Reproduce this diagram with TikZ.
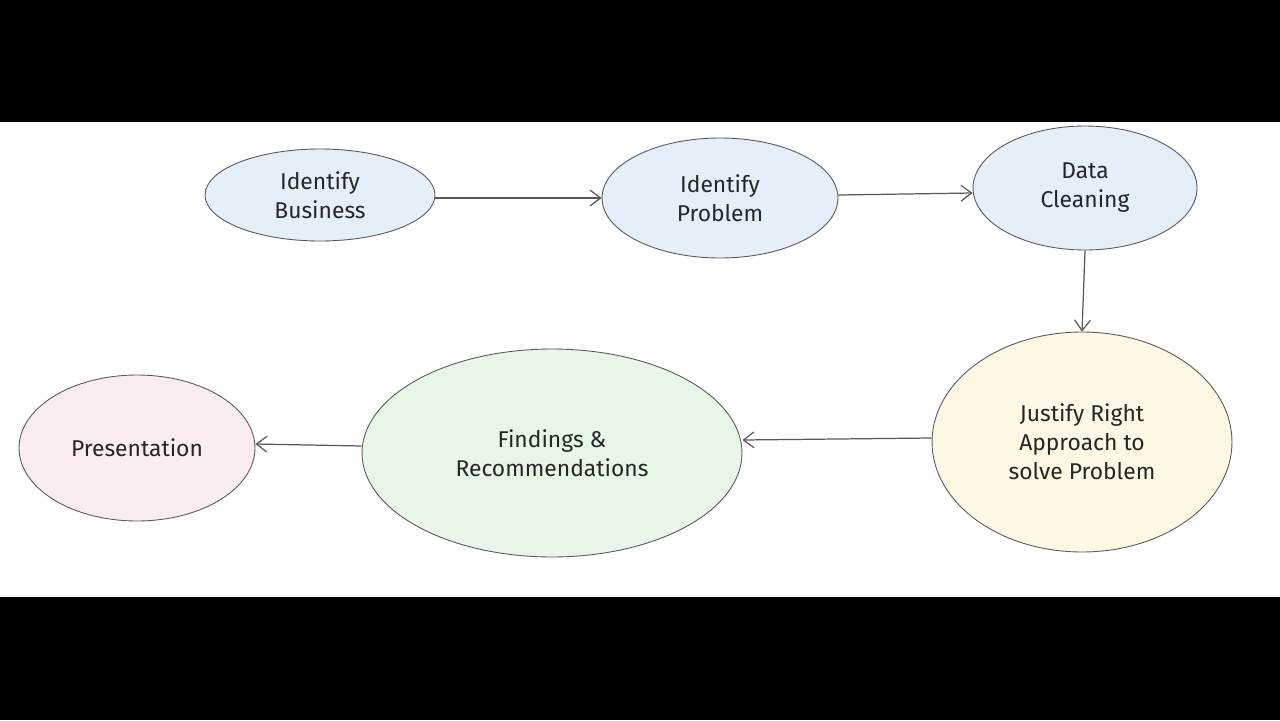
\documentclass[tikz,border=0pt]{standalone}
\usepackage{fontspec}
\setmainfont{Fira Sans}
\usetikzlibrary{shapes.geometric,arrows.meta}
\definecolor{cblue}{HTML}{E4EFFA}
\definecolor{cyel}{HTML}{FCF8E3}
\definecolor{cgreen}{HTML}{E7F6E7}
\definecolor{cpink}{HTML}{FBEDEF}
\begin{document}
\begin{tikzpicture}[x=0.02cm,y=-0.02cm,
  el/.style={ellipse,draw=gray!70!black,line width=0.5pt,align=center,inner sep=0pt,
    font=\fontsize{13}{16.5}\selectfont,text=black!85},
  arr/.style={draw=black!65,line width=0.7pt,-{Straight Barb[length=6pt,width=9pt]}}]
\useasboundingbox (0,0) rectangle (1280,720);
\fill[black] (0,0) rectangle (1280,122);
\fill[white] (0,122) rectangle (1280,597);
\fill[black] (0,597) rectangle (1280,720);
\node[el,fill=cblue,minimum width=4.6cm,minimum height=1.84cm] (a) at (320,195) {Identify\\Business};
\node[el,fill=cblue,minimum width=4.72cm,minimum height=2.4cm] (b) at (720,198) {Identify\\Problem};
\node[el,fill=cblue,minimum width=4.48cm,minimum height=2.48cm] (c) at (1085,188) {Data\\Cleaning};
\node[el,fill=cyel,minimum width=6cm,minimum height=4.4cm] (d) at (1082,442) {Justify Right\\Approach to\\solve Problem};
\node[el,fill=cgreen,minimum width=7.6cm,minimum height=4.16cm] (e) at (552,453) {Findings \&\\Recommendations};
\node[el,fill=cpink,minimum width=4.72cm,minimum height=2.92cm] (f) at (137,448) {Presentation};
\draw[arr] (a.east |- 0,198) -- (b.west |- 0,198);
\draw[arr] (b.east |- 0,195) -- (c.west |- 0,193);
\draw[arr] (c.south) -- (d.north);
\draw[arr] (d.west |- 0,438) -- (e.east |- 0,440);
\draw[arr] (e.west |- 0,446) -- (f.east |- 0,444);
\end{tikzpicture}
\end{document}
